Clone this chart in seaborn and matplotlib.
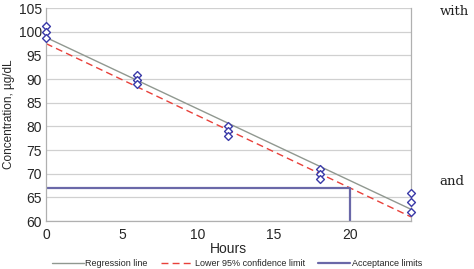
import pandas as pd
import matplotlib.pyplot as plt
import seaborn as sns

# observed concentrations (triplicates) per sampling time
hours = [0, 0, 0, 6, 6, 6, 12, 12, 12, 18, 18, 18, 24, 24, 24]
conc = [101.2, 100.0, 98.7, 90.9, 89.9, 88.9, 80.0, 79.0, 78.0,
        71.0, 70.0, 69.0, 66.0, 64.0, 62.0]

line_hours = [0, 24]
regression = [98.8, 62.5]
lower_cl = [97.5, 60.9]

accept_x = [0, 20, 20]
accept_y = [67, 67, 60]

df = pd.DataFrame({'hours': hours, 'conc': conc})

sns.set_style('white')
plt.rcParams['font.family'] = ['Liberation Sans', 'DejaVu Sans']

fig = plt.figure(figsize=(4.74, 2.69), dpi=100)
ax = fig.add_axes([0.097, 0.178, 0.77, 0.792])

sns.lineplot(x=line_hours, y=regression, color='#909890', lw=1.0,
             label='Regression line', ax=ax)
sns.lineplot(x=line_hours, y=lower_cl, color='#e8403a', lw=1.0,
             linestyle=(0, (5, 3)), label='Lower 95% confidence limit', ax=ax)
ax.plot(accept_x, accept_y, color='#6a68a8', lw=1.6, label='Acceptance limits')
sns.scatterplot(data=df, x='hours', y='conc', marker='D', s=16,
                facecolor='white', edgecolor='#3a3aa8', linewidth=1.0,
                zorder=5, clip_on=False, ax=ax)

ax.set_xlim(0, 24)
ax.set_ylim(60, 105)
ax.set_xticks([0, 5, 10, 15, 20])
ax.set_yticks(range(60, 106, 5))
ax.yaxis.grid(True, color='#d0d0d0', lw=0.9)
ax.xaxis.grid(False)
for side in ['left', 'bottom', 'right', 'top']:
    ax.spines[side].set_color('#b0b0b0')
    ax.spines[side].set_linewidth(0.9)
ax.spines['top'].set_visible(False)
ax.tick_params(axis='x', direction='out', length=3, color='#b0b0b0',
               labelsize=10, pad=2)
ax.tick_params(axis='y', length=0, labelsize=10, pad=3)

ax.set_xlabel('Hours', fontsize=10, labelpad=0)
ax.set_ylabel('Concentration, µg/dL', fontsize=8.5, labelpad=3)

fig.legend(*ax.get_legend_handles_labels(), loc='center',
           bbox_to_anchor=(0.5, 0.02), ncol=3, frameon=False, fontsize=6.5,
           handlelength=3.5, handletextpad=0.2, columnspacing=1.5)
ax.get_legend().remove()

fig.text(0.928, 0.958, 'with', fontsize=9.5, family='DejaVu Serif',
         va='center', color='#222222')
fig.text(0.926, 0.325, 'and', fontsize=9.5, family='DejaVu Serif',
         va='center', color='#222222')

fig.savefig('out.png', dpi=100)
plt.close(fig)
